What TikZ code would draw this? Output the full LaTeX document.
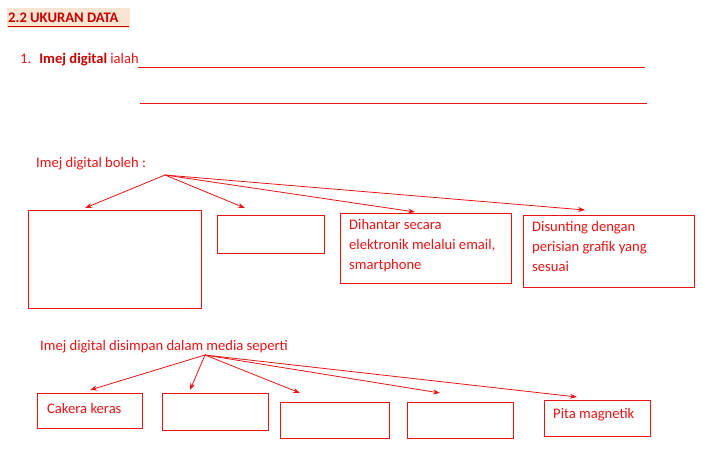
\documentclass[tikz,border=0pt]{standalone}
\usepackage{fontspec}
\setmainfont{Carlito}
\usetikzlibrary{arrows.meta}
\definecolor{rd}{RGB}{230,20,20}
\definecolor{drd}{RGB}{200,0,0}
\definecolor{peach}{RGB}{250,228,210}
\begin{document}
\begin{tikzpicture}[x=1pt,y=-1pt,
  box/.style={draw=rd,line width=0.9pt},
  txt/.style={text=rd,font=\fontsize{14.6}{18}\selectfont,anchor=west,inner sep=0pt},
  btxt/.style={text=rd,font=\fontsize{14.6}{20}\selectfont,align=left,anchor=north west,inner sep=0pt},
  arr/.style={draw=rd,line width=0.8pt,-{Stealth[length=7pt,width=5pt]}}]
\useasboundingbox (0,0) rectangle (703,448);
\fill[peach] (7,8) rectangle (130,28);
\node[anchor=west,inner sep=0pt,text=drd,font=\fontsize{14.6}{18}\selectfont\bfseries] (title) at (8,18) {2.2 UKURAN DATA};
\draw[drd,line width=1pt] (8,26) -- (129,26);
\node[txt] (q1) at (20,60) {1.\hspace{8pt}{\color{drd}\bfseries Imej digital} ialah};
\draw[rd,line width=0.8pt] (138,67) -- (645,67);
\draw[rd,line width=0.8pt] (140,103) -- (647,103);

\node[txt] (l1) at (36,164) {Imej digital boleh :};
\coordinate (p1) at (165,175);
\node[box,anchor=north west,minimum width=173pt,minimum height=98pt] (b1) at (28,210) {};
\node[box,anchor=north west,minimum width=107pt,minimum height=38pt] (b2) at (217,215) {};
\node[box,anchor=north west,minimum width=171pt,minimum height=70pt] (b3) at (340,213) {};
\node[btxt] at (349,219) {Dihantar secara\\elektronik melalui email,\\smartphone};
\node[box,anchor=north west,minimum width=171pt,minimum height=72pt] (b4) at (523,215) {};
\node[btxt] at (532,221) {Disunting dengan\\perisian grafik yang\\sesuai};
\draw[arr] (p1) -- (85,208);
\draw[arr] (p1) -- (245,208);
\draw[arr] (p1) -- (415,212);
\draw[arr] (p1) -- (585,210);

\node[txt] (l2) at (40,347) {Imej digital disimpan dalam media seperti};
\coordinate (p2) at (205,355);
\node[box,anchor=north west,minimum width=105pt,minimum height=35pt] (c1) at (37,393) {};
\node[txt] at (47,408) {Cakera keras};
\node[box,anchor=north west,minimum width=106pt,minimum height=37pt] (c2) at (162,393) {};
\node[box,anchor=north west,minimum width=109pt,minimum height=36pt] (c3) at (280,402) {};
\node[box,anchor=north west,minimum width=106pt,minimum height=36pt] (c4) at (407,402) {};
\node[box,anchor=north west,minimum width=106pt,minimum height=36pt] (c5) at (544,400) {};
\node[txt] at (553,415) {Pita magnetik};
\draw[arr] (p2) -- (90,390);
\draw[arr] (p2) -- (190,390);
\draw[arr] (p2) -- (300,393);
\draw[arr] (p2) -- (440,393);
\draw[arr] (p2) -- (577,397);
\end{tikzpicture}
\end{document}
